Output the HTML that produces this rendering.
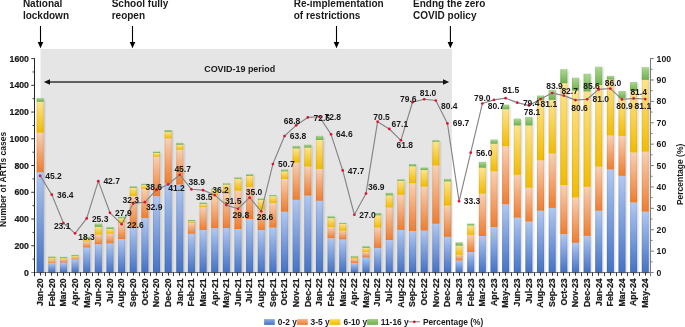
<!DOCTYPE html>
<html><head><meta charset="utf-8"><title>ARTIs chart</title>
<style>
html,body{margin:0;padding:0;background:#fff;}
body{width:685px;height:327px;overflow:hidden;}
svg{display:block;will-change:transform;font-family:"Liberation Sans",sans-serif;font-weight:bold;}
</style></head><body>
<svg width="685" height="327" viewBox="0 0 685 327">
<defs>
<linearGradient id="gB" x1="0" y1="0" x2="0" y2="1"><stop offset="0" stop-color="#b1c8f2"/><stop offset="1" stop-color="#4472c4"/></linearGradient>
<linearGradient id="gO" x1="0" y1="0" x2="0" y2="1"><stop offset="0" stop-color="#f9d0b2"/><stop offset="1" stop-color="#ee7d30"/></linearGradient>
<linearGradient id="gY" x1="0" y1="0" x2="0" y2="1"><stop offset="0" stop-color="#ffe48e"/><stop offset="1" stop-color="#f2bb00"/></linearGradient>
<linearGradient id="gG" x1="0" y1="0" x2="0" y2="1"><stop offset="0" stop-color="#acd894"/><stop offset="1" stop-color="#6fb04a"/></linearGradient>
<linearGradient id="lB" x1="0" y1="0" x2="0" y2="1"><stop offset="0" stop-color="#8eaae6"/><stop offset="1" stop-color="#4472c4"/></linearGradient>
<linearGradient id="lO" x1="0" y1="0" x2="0" y2="1"><stop offset="0" stop-color="#f6b086"/><stop offset="1" stop-color="#ee7d30"/></linearGradient>
<linearGradient id="lY" x1="0" y1="0" x2="0" y2="1"><stop offset="0" stop-color="#ffd960"/><stop offset="1" stop-color="#f2bb00"/></linearGradient>
<linearGradient id="lG" x1="0" y1="0" x2="0" y2="1"><stop offset="0" stop-color="#9ccc7e"/><stop offset="1" stop-color="#6fb04a"/></linearGradient>
<filter id="sh" x="-30%" y="-5%" width="160%" height="110%"><feGaussianBlur in="SourceAlpha" stdDeviation="0.8"/><feOffset dx="0.9" dy="0.5" result="b"/><feComponentTransfer><feFuncA type="linear" slope="0.2"/></feComponentTransfer><feMerge><feMergeNode/><feMergeNode in="SourceGraphic"/></feMerge></filter>
<linearGradient id="edge" x1="0" y1="0" x2="1" y2="0"><stop offset="0" stop-color="#000" stop-opacity="0.10"/><stop offset="0.22" stop-color="#000" stop-opacity="0"/><stop offset="0.78" stop-color="#000" stop-opacity="0"/><stop offset="1" stop-color="#000" stop-opacity="0.10"/></linearGradient>
</defs>
<rect x="40.5" y="48.9" width="411.4" height="223.60" fill="#e5e5e5"/>
<g filter="url(#sh)">
<rect x="36.65" y="172.10" width="7.00" height="100.40" fill="url(#gB)"/>
<rect x="36.65" y="132.66" width="7.00" height="39.44" fill="url(#gO)"/>
<rect x="36.65" y="101.78" width="7.00" height="30.88" fill="url(#gY)"/>
<rect x="36.65" y="98.04" width="7.00" height="3.74" fill="url(#gG)"/>
<rect x="48.29" y="262.74" width="7.00" height="9.76" fill="url(#gB)"/>
<rect x="48.29" y="260.33" width="7.00" height="2.41" fill="url(#gO)"/>
<rect x="48.29" y="257.93" width="7.00" height="2.41" fill="url(#gY)"/>
<rect x="48.29" y="256.46" width="7.00" height="1.47" fill="url(#gG)"/>
<rect x="59.92" y="262.47" width="7.00" height="10.03" fill="url(#gB)"/>
<rect x="59.92" y="259.13" width="7.00" height="3.34" fill="url(#gO)"/>
<rect x="59.92" y="258.06" width="7.00" height="1.07" fill="url(#gY)"/>
<rect x="59.92" y="256.86" width="7.00" height="1.20" fill="url(#gG)"/>
<rect x="71.56" y="259.26" width="7.00" height="13.24" fill="url(#gB)"/>
<rect x="71.56" y="257.53" width="7.00" height="1.74" fill="url(#gO)"/>
<rect x="71.56" y="256.06" width="7.00" height="1.47" fill="url(#gY)"/>
<rect x="71.56" y="254.85" width="7.00" height="1.20" fill="url(#gG)"/>
<rect x="83.20" y="247.50" width="7.00" height="25.00" fill="url(#gB)"/>
<rect x="83.20" y="241.48" width="7.00" height="6.02" fill="url(#gO)"/>
<rect x="83.20" y="238.81" width="7.00" height="2.67" fill="url(#gY)"/>
<rect x="83.20" y="236.67" width="7.00" height="2.14" fill="url(#gG)"/>
<rect x="94.83" y="244.16" width="7.00" height="28.34" fill="url(#gB)"/>
<rect x="94.83" y="234.53" width="7.00" height="9.63" fill="url(#gO)"/>
<rect x="94.83" y="226.91" width="7.00" height="7.62" fill="url(#gY)"/>
<rect x="94.83" y="223.57" width="7.00" height="3.34" fill="url(#gG)"/>
<rect x="106.47" y="243.36" width="7.00" height="29.14" fill="url(#gB)"/>
<rect x="106.47" y="233.60" width="7.00" height="9.76" fill="url(#gO)"/>
<rect x="106.47" y="229.05" width="7.00" height="4.55" fill="url(#gY)"/>
<rect x="106.47" y="227.05" width="7.00" height="2.01" fill="url(#gG)"/>
<rect x="118.11" y="239.08" width="7.00" height="33.42" fill="url(#gB)"/>
<rect x="118.11" y="223.04" width="7.00" height="16.04" fill="url(#gO)"/>
<rect x="118.11" y="218.22" width="7.00" height="4.81" fill="url(#gY)"/>
<rect x="118.11" y="216.62" width="7.00" height="1.60" fill="url(#gG)"/>
<rect x="129.74" y="226.91" width="7.00" height="45.59" fill="url(#gB)"/>
<rect x="129.74" y="195.90" width="7.00" height="31.02" fill="url(#gO)"/>
<rect x="129.74" y="187.88" width="7.00" height="8.02" fill="url(#gY)"/>
<rect x="129.74" y="186.27" width="7.00" height="1.60" fill="url(#gG)"/>
<rect x="141.38" y="217.96" width="7.00" height="54.54" fill="url(#gB)"/>
<rect x="141.38" y="188.81" width="7.00" height="29.14" fill="url(#gO)"/>
<rect x="141.38" y="184.80" width="7.00" height="4.01" fill="url(#gY)"/>
<rect x="141.38" y="183.73" width="7.00" height="1.07" fill="url(#gG)"/>
<rect x="153.02" y="196.16" width="7.00" height="76.34" fill="url(#gB)"/>
<rect x="153.02" y="156.59" width="7.00" height="39.57" fill="url(#gO)"/>
<rect x="153.02" y="152.98" width="7.00" height="3.61" fill="url(#gY)"/>
<rect x="153.02" y="151.51" width="7.00" height="1.47" fill="url(#gG)"/>
<rect x="164.66" y="183.60" width="7.00" height="88.90" fill="url(#gB)"/>
<rect x="164.66" y="138.28" width="7.00" height="45.32" fill="url(#gO)"/>
<rect x="164.66" y="131.86" width="7.00" height="6.42" fill="url(#gY)"/>
<rect x="164.66" y="129.99" width="7.00" height="1.87" fill="url(#gG)"/>
<rect x="176.29" y="184.53" width="7.00" height="87.97" fill="url(#gB)"/>
<rect x="176.29" y="149.64" width="7.00" height="34.89" fill="url(#gO)"/>
<rect x="176.29" y="144.69" width="7.00" height="4.95" fill="url(#gY)"/>
<rect x="176.29" y="142.82" width="7.00" height="1.87" fill="url(#gG)"/>
<rect x="187.93" y="233.73" width="7.00" height="38.77" fill="url(#gB)"/>
<rect x="187.93" y="222.90" width="7.00" height="10.83" fill="url(#gO)"/>
<rect x="187.93" y="221.16" width="7.00" height="1.74" fill="url(#gY)"/>
<rect x="187.93" y="219.83" width="7.00" height="1.34" fill="url(#gG)"/>
<rect x="199.57" y="229.99" width="7.00" height="42.51" fill="url(#gB)"/>
<rect x="199.57" y="207.13" width="7.00" height="22.86" fill="url(#gO)"/>
<rect x="199.57" y="203.92" width="7.00" height="3.21" fill="url(#gY)"/>
<rect x="199.57" y="202.45" width="7.00" height="1.47" fill="url(#gG)"/>
<rect x="211.20" y="228.12" width="7.00" height="44.38" fill="url(#gB)"/>
<rect x="211.20" y="196.30" width="7.00" height="31.82" fill="url(#gO)"/>
<rect x="211.20" y="189.48" width="7.00" height="6.82" fill="url(#gY)"/>
<rect x="211.20" y="188.68" width="7.00" height="0.80" fill="url(#gG)"/>
<rect x="222.84" y="228.12" width="7.00" height="44.38" fill="url(#gB)"/>
<rect x="222.84" y="193.62" width="7.00" height="34.49" fill="url(#gO)"/>
<rect x="222.84" y="184.53" width="7.00" height="9.09" fill="url(#gY)"/>
<rect x="222.84" y="183.20" width="7.00" height="1.34" fill="url(#gG)"/>
<rect x="234.48" y="229.05" width="7.00" height="43.45" fill="url(#gB)"/>
<rect x="234.48" y="190.55" width="7.00" height="38.50" fill="url(#gO)"/>
<rect x="234.48" y="178.79" width="7.00" height="11.76" fill="url(#gY)"/>
<rect x="234.48" y="177.31" width="7.00" height="1.47" fill="url(#gG)"/>
<rect x="246.11" y="219.02" width="7.00" height="53.48" fill="url(#gB)"/>
<rect x="246.11" y="186.81" width="7.00" height="32.22" fill="url(#gO)"/>
<rect x="246.11" y="175.84" width="7.00" height="10.96" fill="url(#gY)"/>
<rect x="246.11" y="174.11" width="7.00" height="1.74" fill="url(#gG)"/>
<rect x="257.75" y="229.99" width="7.00" height="42.51" fill="url(#gB)"/>
<rect x="257.75" y="209.40" width="7.00" height="20.59" fill="url(#gO)"/>
<rect x="257.75" y="199.77" width="7.00" height="9.63" fill="url(#gY)"/>
<rect x="257.75" y="198.44" width="7.00" height="1.34" fill="url(#gG)"/>
<rect x="269.39" y="227.58" width="7.00" height="44.92" fill="url(#gB)"/>
<rect x="269.39" y="202.98" width="7.00" height="24.60" fill="url(#gO)"/>
<rect x="269.39" y="196.16" width="7.00" height="6.82" fill="url(#gY)"/>
<rect x="269.39" y="194.96" width="7.00" height="1.20" fill="url(#gG)"/>
<rect x="281.03" y="211.67" width="7.00" height="60.83" fill="url(#gB)"/>
<rect x="281.03" y="178.92" width="7.00" height="32.75" fill="url(#gO)"/>
<rect x="281.03" y="171.30" width="7.00" height="7.62" fill="url(#gY)"/>
<rect x="281.03" y="169.43" width="7.00" height="1.87" fill="url(#gG)"/>
<rect x="292.66" y="199.77" width="7.00" height="72.73" fill="url(#gB)"/>
<rect x="292.66" y="162.61" width="7.00" height="37.17" fill="url(#gO)"/>
<rect x="292.66" y="148.30" width="7.00" height="14.30" fill="url(#gY)"/>
<rect x="292.66" y="145.90" width="7.00" height="2.41" fill="url(#gG)"/>
<rect x="304.30" y="195.50" width="7.00" height="77.00" fill="url(#gB)"/>
<rect x="304.30" y="166.49" width="7.00" height="29.01" fill="url(#gO)"/>
<rect x="304.30" y="147.50" width="7.00" height="18.98" fill="url(#gY)"/>
<rect x="304.30" y="144.69" width="7.00" height="2.81" fill="url(#gG)"/>
<rect x="315.94" y="200.71" width="7.00" height="71.79" fill="url(#gB)"/>
<rect x="315.94" y="168.89" width="7.00" height="31.82" fill="url(#gO)"/>
<rect x="315.94" y="139.88" width="7.00" height="29.01" fill="url(#gY)"/>
<rect x="315.94" y="135.87" width="7.00" height="4.01" fill="url(#gG)"/>
<rect x="327.57" y="238.14" width="7.00" height="34.36" fill="url(#gB)"/>
<rect x="327.57" y="227.18" width="7.00" height="10.96" fill="url(#gO)"/>
<rect x="327.57" y="218.09" width="7.00" height="9.09" fill="url(#gY)"/>
<rect x="327.57" y="216.22" width="7.00" height="1.87" fill="url(#gG)"/>
<rect x="339.21" y="239.35" width="7.00" height="33.15" fill="url(#gB)"/>
<rect x="339.21" y="230.66" width="7.00" height="8.69" fill="url(#gO)"/>
<rect x="339.21" y="223.84" width="7.00" height="6.82" fill="url(#gY)"/>
<rect x="339.21" y="222.77" width="7.00" height="1.07" fill="url(#gG)"/>
<rect x="350.85" y="263.01" width="7.00" height="9.49" fill="url(#gB)"/>
<rect x="350.85" y="258.73" width="7.00" height="4.28" fill="url(#gO)"/>
<rect x="350.85" y="257.53" width="7.00" height="1.20" fill="url(#gY)"/>
<rect x="350.85" y="256.06" width="7.00" height="1.47" fill="url(#gG)"/>
<rect x="362.48" y="257.53" width="7.00" height="14.97" fill="url(#gB)"/>
<rect x="362.48" y="252.05" width="7.00" height="5.48" fill="url(#gO)"/>
<rect x="362.48" y="247.90" width="7.00" height="4.14" fill="url(#gY)"/>
<rect x="362.48" y="246.16" width="7.00" height="1.74" fill="url(#gG)"/>
<rect x="374.12" y="247.90" width="7.00" height="24.60" fill="url(#gB)"/>
<rect x="374.12" y="227.45" width="7.00" height="20.45" fill="url(#gO)"/>
<rect x="374.12" y="215.28" width="7.00" height="12.17" fill="url(#gY)"/>
<rect x="374.12" y="213.01" width="7.00" height="2.27" fill="url(#gG)"/>
<rect x="385.76" y="240.01" width="7.00" height="32.49" fill="url(#gB)"/>
<rect x="385.76" y="207.39" width="7.00" height="32.62" fill="url(#gO)"/>
<rect x="385.76" y="195.36" width="7.00" height="12.03" fill="url(#gY)"/>
<rect x="385.76" y="192.82" width="7.00" height="2.54" fill="url(#gG)"/>
<rect x="397.40" y="229.85" width="7.00" height="42.65" fill="url(#gB)"/>
<rect x="397.40" y="194.83" width="7.00" height="35.03" fill="url(#gO)"/>
<rect x="397.40" y="180.79" width="7.00" height="14.04" fill="url(#gY)"/>
<rect x="397.40" y="179.19" width="7.00" height="1.60" fill="url(#gG)"/>
<rect x="409.03" y="230.92" width="7.00" height="41.58" fill="url(#gB)"/>
<rect x="409.03" y="183.20" width="7.00" height="47.73" fill="url(#gO)"/>
<rect x="409.03" y="166.22" width="7.00" height="16.98" fill="url(#gY)"/>
<rect x="409.03" y="163.95" width="7.00" height="2.27" fill="url(#gG)"/>
<rect x="420.67" y="230.52" width="7.00" height="41.98" fill="url(#gB)"/>
<rect x="420.67" y="186.54" width="7.00" height="43.98" fill="url(#gO)"/>
<rect x="420.67" y="169.96" width="7.00" height="16.58" fill="url(#gY)"/>
<rect x="420.67" y="167.42" width="7.00" height="2.54" fill="url(#gG)"/>
<rect x="432.31" y="223.70" width="7.00" height="48.80" fill="url(#gB)"/>
<rect x="432.31" y="165.42" width="7.00" height="58.29" fill="url(#gO)"/>
<rect x="432.31" y="141.75" width="7.00" height="23.66" fill="url(#gY)"/>
<rect x="432.31" y="140.15" width="7.00" height="1.60" fill="url(#gG)"/>
<rect x="443.94" y="236.81" width="7.00" height="35.69" fill="url(#gB)"/>
<rect x="443.94" y="205.52" width="7.00" height="31.28" fill="url(#gO)"/>
<rect x="443.94" y="181.33" width="7.00" height="24.20" fill="url(#gY)"/>
<rect x="443.94" y="178.92" width="7.00" height="2.41" fill="url(#gG)"/>
<rect x="455.58" y="260.60" width="7.00" height="11.90" fill="url(#gB)"/>
<rect x="455.58" y="254.85" width="7.00" height="5.75" fill="url(#gO)"/>
<rect x="455.58" y="245.63" width="7.00" height="9.22" fill="url(#gY)"/>
<rect x="455.58" y="242.29" width="7.00" height="3.34" fill="url(#gG)"/>
<rect x="467.22" y="252.05" width="7.00" height="20.45" fill="url(#gB)"/>
<rect x="467.22" y="234.93" width="7.00" height="17.11" fill="url(#gO)"/>
<rect x="467.22" y="225.44" width="7.00" height="9.49" fill="url(#gY)"/>
<rect x="467.22" y="223.57" width="7.00" height="1.87" fill="url(#gG)"/>
<rect x="478.85" y="236.00" width="7.00" height="36.50" fill="url(#gB)"/>
<rect x="478.85" y="193.62" width="7.00" height="42.38" fill="url(#gO)"/>
<rect x="478.85" y="167.69" width="7.00" height="25.94" fill="url(#gY)"/>
<rect x="478.85" y="161.81" width="7.00" height="5.88" fill="url(#gG)"/>
<rect x="490.49" y="227.18" width="7.00" height="45.32" fill="url(#gB)"/>
<rect x="490.49" y="171.30" width="7.00" height="55.88" fill="url(#gO)"/>
<rect x="490.49" y="143.76" width="7.00" height="27.54" fill="url(#gY)"/>
<rect x="490.49" y="139.48" width="7.00" height="4.28" fill="url(#gG)"/>
<rect x="502.13" y="204.32" width="7.00" height="68.18" fill="url(#gB)"/>
<rect x="502.13" y="146.17" width="7.00" height="58.15" fill="url(#gO)"/>
<rect x="502.13" y="109.27" width="7.00" height="36.90" fill="url(#gY)"/>
<rect x="502.13" y="104.59" width="7.00" height="4.68" fill="url(#gG)"/>
<rect x="513.77" y="217.69" width="7.00" height="54.81" fill="url(#gB)"/>
<rect x="513.77" y="174.91" width="7.00" height="42.78" fill="url(#gO)"/>
<rect x="513.77" y="125.44" width="7.00" height="49.46" fill="url(#gY)"/>
<rect x="513.77" y="118.63" width="7.00" height="6.82" fill="url(#gG)"/>
<rect x="525.40" y="221.57" width="7.00" height="50.93" fill="url(#gB)"/>
<rect x="525.40" y="187.74" width="7.00" height="33.82" fill="url(#gO)"/>
<rect x="525.40" y="125.44" width="7.00" height="62.30" fill="url(#gY)"/>
<rect x="525.40" y="117.02" width="7.00" height="8.42" fill="url(#gG)"/>
<rect x="537.04" y="210.74" width="7.00" height="61.76" fill="url(#gB)"/>
<rect x="537.04" y="160.34" width="7.00" height="50.40" fill="url(#gO)"/>
<rect x="537.04" y="100.31" width="7.00" height="60.03" fill="url(#gY)"/>
<rect x="537.04" y="95.50" width="7.00" height="4.81" fill="url(#gG)"/>
<rect x="548.68" y="207.93" width="7.00" height="64.57" fill="url(#gB)"/>
<rect x="548.68" y="153.52" width="7.00" height="54.41" fill="url(#gO)"/>
<rect x="548.68" y="99.91" width="7.00" height="53.61" fill="url(#gY)"/>
<rect x="548.68" y="89.88" width="7.00" height="10.03" fill="url(#gG)"/>
<rect x="560.31" y="234.13" width="7.00" height="38.37" fill="url(#gB)"/>
<rect x="560.31" y="185.07" width="7.00" height="49.06" fill="url(#gO)"/>
<rect x="560.31" y="83.20" width="7.00" height="101.87" fill="url(#gY)"/>
<rect x="560.31" y="69.16" width="7.00" height="14.04" fill="url(#gG)"/>
<rect x="571.95" y="242.82" width="7.00" height="29.68" fill="url(#gB)"/>
<rect x="571.95" y="197.50" width="7.00" height="45.32" fill="url(#gO)"/>
<rect x="571.95" y="90.55" width="7.00" height="106.95" fill="url(#gY)"/>
<rect x="571.95" y="77.72" width="7.00" height="12.83" fill="url(#gG)"/>
<rect x="583.59" y="235.87" width="7.00" height="36.63" fill="url(#gB)"/>
<rect x="583.59" y="186.81" width="7.00" height="49.06" fill="url(#gO)"/>
<rect x="583.59" y="91.49" width="7.00" height="95.32" fill="url(#gY)"/>
<rect x="583.59" y="73.71" width="7.00" height="17.78" fill="url(#gG)"/>
<rect x="595.22" y="210.74" width="7.00" height="61.76" fill="url(#gB)"/>
<rect x="595.22" y="166.62" width="7.00" height="44.12" fill="url(#gO)"/>
<rect x="595.22" y="85.07" width="7.00" height="81.55" fill="url(#gY)"/>
<rect x="595.22" y="66.75" width="7.00" height="18.32" fill="url(#gG)"/>
<rect x="606.86" y="169.43" width="7.00" height="103.07" fill="url(#gB)"/>
<rect x="606.86" y="135.47" width="7.00" height="33.96" fill="url(#gO)"/>
<rect x="606.86" y="79.59" width="7.00" height="55.88" fill="url(#gY)"/>
<rect x="606.86" y="75.85" width="7.00" height="3.74" fill="url(#gG)"/>
<rect x="618.50" y="175.84" width="7.00" height="96.66" fill="url(#gB)"/>
<rect x="618.50" y="135.87" width="7.00" height="39.97" fill="url(#gO)"/>
<rect x="618.50" y="98.31" width="7.00" height="37.57" fill="url(#gY)"/>
<rect x="618.50" y="90.95" width="7.00" height="7.35" fill="url(#gG)"/>
<rect x="630.14" y="202.45" width="7.00" height="70.05" fill="url(#gB)"/>
<rect x="630.14" y="152.45" width="7.00" height="50.00" fill="url(#gO)"/>
<rect x="630.14" y="90.95" width="7.00" height="61.50" fill="url(#gY)"/>
<rect x="630.14" y="82.00" width="7.00" height="8.96" fill="url(#gG)"/>
<rect x="641.77" y="211.67" width="7.00" height="60.83" fill="url(#gB)"/>
<rect x="641.77" y="151.65" width="7.00" height="60.03" fill="url(#gO)"/>
<rect x="641.77" y="79.86" width="7.00" height="71.79" fill="url(#gY)"/>
<rect x="641.77" y="67.16" width="7.00" height="12.70" fill="url(#gG)"/>
</g>
<g fill="url(#edge)">
<rect x="36.65" y="98.04" width="7.00" height="174.46"/>
<rect x="48.29" y="256.46" width="7.00" height="16.04"/>
<rect x="59.92" y="256.86" width="7.00" height="15.64"/>
<rect x="71.56" y="254.85" width="7.00" height="17.65"/>
<rect x="83.20" y="236.67" width="7.00" height="35.83"/>
<rect x="94.83" y="223.57" width="7.00" height="48.93"/>
<rect x="106.47" y="227.05" width="7.00" height="45.45"/>
<rect x="118.11" y="216.62" width="7.00" height="55.88"/>
<rect x="129.74" y="186.27" width="7.00" height="86.23"/>
<rect x="141.38" y="183.73" width="7.00" height="88.77"/>
<rect x="153.02" y="151.51" width="7.00" height="120.99"/>
<rect x="164.66" y="129.99" width="7.00" height="142.51"/>
<rect x="176.29" y="142.82" width="7.00" height="129.68"/>
<rect x="187.93" y="219.83" width="7.00" height="52.67"/>
<rect x="199.57" y="202.45" width="7.00" height="70.05"/>
<rect x="211.20" y="188.68" width="7.00" height="83.82"/>
<rect x="222.84" y="183.20" width="7.00" height="89.30"/>
<rect x="234.48" y="177.31" width="7.00" height="95.19"/>
<rect x="246.11" y="174.11" width="7.00" height="98.39"/>
<rect x="257.75" y="198.44" width="7.00" height="74.06"/>
<rect x="269.39" y="194.96" width="7.00" height="77.54"/>
<rect x="281.03" y="169.43" width="7.00" height="103.07"/>
<rect x="292.66" y="145.90" width="7.00" height="126.60"/>
<rect x="304.30" y="144.69" width="7.00" height="127.81"/>
<rect x="315.94" y="135.87" width="7.00" height="136.63"/>
<rect x="327.57" y="216.22" width="7.00" height="56.28"/>
<rect x="339.21" y="222.77" width="7.00" height="49.73"/>
<rect x="350.85" y="256.06" width="7.00" height="16.44"/>
<rect x="362.48" y="246.16" width="7.00" height="26.34"/>
<rect x="374.12" y="213.01" width="7.00" height="59.49"/>
<rect x="385.76" y="192.82" width="7.00" height="79.68"/>
<rect x="397.40" y="179.19" width="7.00" height="93.31"/>
<rect x="409.03" y="163.95" width="7.00" height="108.55"/>
<rect x="420.67" y="167.42" width="7.00" height="105.08"/>
<rect x="432.31" y="140.15" width="7.00" height="132.35"/>
<rect x="443.94" y="178.92" width="7.00" height="93.58"/>
<rect x="455.58" y="242.29" width="7.00" height="30.21"/>
<rect x="467.22" y="223.57" width="7.00" height="48.93"/>
<rect x="478.85" y="161.81" width="7.00" height="110.69"/>
<rect x="490.49" y="139.48" width="7.00" height="133.02"/>
<rect x="502.13" y="104.59" width="7.00" height="167.91"/>
<rect x="513.77" y="118.63" width="7.00" height="153.87"/>
<rect x="525.40" y="117.02" width="7.00" height="155.48"/>
<rect x="537.04" y="95.50" width="7.00" height="177.00"/>
<rect x="548.68" y="89.88" width="7.00" height="182.62"/>
<rect x="560.31" y="69.16" width="7.00" height="203.34"/>
<rect x="571.95" y="77.72" width="7.00" height="194.78"/>
<rect x="583.59" y="73.71" width="7.00" height="198.79"/>
<rect x="595.22" y="66.75" width="7.00" height="205.75"/>
<rect x="606.86" y="75.85" width="7.00" height="196.65"/>
<rect x="618.50" y="90.95" width="7.00" height="181.55"/>
<rect x="630.14" y="82.00" width="7.00" height="190.50"/>
<rect x="641.77" y="67.16" width="7.00" height="205.34"/>
</g>
<g stroke="#3a3a3a" stroke-width="1" fill="none">
<line x1="32.50" y1="259.13" x2="34.50" y2="259.13"/>
<line x1="31.20" y1="245.76" x2="34.50" y2="245.76"/>
<line x1="32.50" y1="232.39" x2="34.50" y2="232.39"/>
<line x1="31.20" y1="219.03" x2="34.50" y2="219.03"/>
<line x1="32.50" y1="205.66" x2="34.50" y2="205.66"/>
<line x1="31.20" y1="192.29" x2="34.50" y2="192.29"/>
<line x1="32.50" y1="178.92" x2="34.50" y2="178.92"/>
<line x1="31.20" y1="165.55" x2="34.50" y2="165.55"/>
<line x1="32.50" y1="152.18" x2="34.50" y2="152.18"/>
<line x1="31.20" y1="138.81" x2="34.50" y2="138.81"/>
<line x1="32.50" y1="125.44" x2="34.50" y2="125.44"/>
<line x1="31.20" y1="112.07" x2="34.50" y2="112.07"/>
<line x1="32.50" y1="98.71" x2="34.50" y2="98.71"/>
<line x1="31.20" y1="85.34" x2="34.50" y2="85.34"/>
<line x1="32.50" y1="71.97" x2="34.50" y2="71.97"/>
<line x1="31.20" y1="58.60" x2="34.50" y2="58.60"/>
<line x1="45.50" y1="272.50" x2="45.50" y2="276.10"/>
<line x1="57.50" y1="272.50" x2="57.50" y2="276.10"/>
<line x1="69.50" y1="272.50" x2="69.50" y2="276.10"/>
<line x1="80.50" y1="272.50" x2="80.50" y2="276.10"/>
<line x1="92.50" y1="272.50" x2="92.50" y2="276.10"/>
<line x1="104.50" y1="272.50" x2="104.50" y2="276.10"/>
<line x1="115.50" y1="272.50" x2="115.50" y2="276.10"/>
<line x1="127.50" y1="272.50" x2="127.50" y2="276.10"/>
<line x1="139.50" y1="272.50" x2="139.50" y2="276.10"/>
<line x1="150.50" y1="272.50" x2="150.50" y2="276.10"/>
<line x1="162.50" y1="272.50" x2="162.50" y2="276.10"/>
<line x1="173.50" y1="272.50" x2="173.50" y2="276.10"/>
<line x1="185.50" y1="272.50" x2="185.50" y2="276.10"/>
<line x1="197.50" y1="272.50" x2="197.50" y2="276.10"/>
<line x1="208.50" y1="272.50" x2="208.50" y2="276.10"/>
<line x1="220.50" y1="272.50" x2="220.50" y2="276.10"/>
<line x1="232.50" y1="272.50" x2="232.50" y2="276.10"/>
<line x1="243.50" y1="272.50" x2="243.50" y2="276.10"/>
<line x1="255.50" y1="272.50" x2="255.50" y2="276.10"/>
<line x1="267.50" y1="272.50" x2="267.50" y2="276.10"/>
<line x1="278.50" y1="272.50" x2="278.50" y2="276.10"/>
<line x1="290.50" y1="272.50" x2="290.50" y2="276.10"/>
<line x1="301.50" y1="272.50" x2="301.50" y2="276.10"/>
<line x1="313.50" y1="272.50" x2="313.50" y2="276.10"/>
<line x1="325.50" y1="272.50" x2="325.50" y2="276.10"/>
<line x1="336.50" y1="272.50" x2="336.50" y2="276.10"/>
<line x1="348.50" y1="272.50" x2="348.50" y2="276.10"/>
<line x1="360.50" y1="272.50" x2="360.50" y2="276.10"/>
<line x1="371.50" y1="272.50" x2="371.50" y2="276.10"/>
<line x1="383.50" y1="272.50" x2="383.50" y2="276.10"/>
<line x1="395.50" y1="272.50" x2="395.50" y2="276.10"/>
<line x1="406.50" y1="272.50" x2="406.50" y2="276.10"/>
<line x1="418.50" y1="272.50" x2="418.50" y2="276.10"/>
<line x1="429.50" y1="272.50" x2="429.50" y2="276.10"/>
<line x1="441.50" y1="272.50" x2="441.50" y2="276.10"/>
<line x1="453.50" y1="272.50" x2="453.50" y2="276.10"/>
<line x1="464.50" y1="272.50" x2="464.50" y2="276.10"/>
<line x1="476.50" y1="272.50" x2="476.50" y2="276.10"/>
<line x1="488.50" y1="272.50" x2="488.50" y2="276.10"/>
<line x1="499.50" y1="272.50" x2="499.50" y2="276.10"/>
<line x1="511.50" y1="272.50" x2="511.50" y2="276.10"/>
<line x1="523.50" y1="272.50" x2="523.50" y2="276.10"/>
<line x1="534.50" y1="272.50" x2="534.50" y2="276.10"/>
<line x1="546.50" y1="272.50" x2="546.50" y2="276.10"/>
<line x1="557.50" y1="272.50" x2="557.50" y2="276.10"/>
<line x1="569.50" y1="272.50" x2="569.50" y2="276.10"/>
<line x1="581.50" y1="272.50" x2="581.50" y2="276.10"/>
<line x1="592.50" y1="272.50" x2="592.50" y2="276.10"/>
<line x1="604.50" y1="272.50" x2="604.50" y2="276.10"/>
<line x1="616.50" y1="272.50" x2="616.50" y2="276.10"/>
<line x1="627.50" y1="272.50" x2="627.50" y2="276.10"/>
<line x1="639.50" y1="272.50" x2="639.50" y2="276.10"/>
<line x1="40.50" y1="272.50" x2="40.50" y2="275.70"/>
<line x1="51.50" y1="272.50" x2="51.50" y2="275.70"/>
<line x1="63.50" y1="272.50" x2="63.50" y2="275.70"/>
<line x1="75.50" y1="272.50" x2="75.50" y2="275.70"/>
<line x1="86.50" y1="272.50" x2="86.50" y2="275.70"/>
<line x1="98.50" y1="272.50" x2="98.50" y2="275.70"/>
<line x1="109.50" y1="272.50" x2="109.50" y2="275.70"/>
<line x1="121.50" y1="272.50" x2="121.50" y2="275.70"/>
<line x1="133.50" y1="272.50" x2="133.50" y2="275.70"/>
<line x1="144.50" y1="272.50" x2="144.50" y2="275.70"/>
<line x1="156.50" y1="272.50" x2="156.50" y2="275.70"/>
<line x1="168.50" y1="272.50" x2="168.50" y2="275.70"/>
<line x1="179.50" y1="272.50" x2="179.50" y2="275.70"/>
<line x1="191.50" y1="272.50" x2="191.50" y2="275.70"/>
<line x1="203.50" y1="272.50" x2="203.50" y2="275.70"/>
<line x1="214.50" y1="272.50" x2="214.50" y2="275.70"/>
<line x1="226.50" y1="272.50" x2="226.50" y2="275.70"/>
<line x1="237.50" y1="272.50" x2="237.50" y2="275.70"/>
<line x1="249.50" y1="272.50" x2="249.50" y2="275.70"/>
<line x1="261.50" y1="272.50" x2="261.50" y2="275.70"/>
<line x1="272.50" y1="272.50" x2="272.50" y2="275.70"/>
<line x1="284.50" y1="272.50" x2="284.50" y2="275.70"/>
<line x1="296.50" y1="272.50" x2="296.50" y2="275.70"/>
<line x1="307.50" y1="272.50" x2="307.50" y2="275.70"/>
<line x1="319.50" y1="272.50" x2="319.50" y2="275.70"/>
<line x1="331.50" y1="272.50" x2="331.50" y2="275.70"/>
<line x1="342.50" y1="272.50" x2="342.50" y2="275.70"/>
<line x1="354.50" y1="272.50" x2="354.50" y2="275.70"/>
<line x1="365.50" y1="272.50" x2="365.50" y2="275.70"/>
<line x1="377.50" y1="272.50" x2="377.50" y2="275.70"/>
<line x1="389.50" y1="272.50" x2="389.50" y2="275.70"/>
<line x1="400.50" y1="272.50" x2="400.50" y2="275.70"/>
<line x1="412.50" y1="272.50" x2="412.50" y2="275.70"/>
<line x1="424.50" y1="272.50" x2="424.50" y2="275.70"/>
<line x1="435.50" y1="272.50" x2="435.50" y2="275.70"/>
<line x1="447.50" y1="272.50" x2="447.50" y2="275.70"/>
<line x1="459.50" y1="272.50" x2="459.50" y2="275.70"/>
<line x1="470.50" y1="272.50" x2="470.50" y2="275.70"/>
<line x1="482.50" y1="272.50" x2="482.50" y2="275.70"/>
<line x1="493.50" y1="272.50" x2="493.50" y2="275.70"/>
<line x1="505.50" y1="272.50" x2="505.50" y2="275.70"/>
<line x1="517.50" y1="272.50" x2="517.50" y2="275.70"/>
<line x1="528.50" y1="272.50" x2="528.50" y2="275.70"/>
<line x1="540.50" y1="272.50" x2="540.50" y2="275.70"/>
<line x1="552.50" y1="272.50" x2="552.50" y2="275.70"/>
<line x1="563.50" y1="272.50" x2="563.50" y2="275.70"/>
<line x1="575.50" y1="272.50" x2="575.50" y2="275.70"/>
<line x1="587.50" y1="272.50" x2="587.50" y2="275.70"/>
<line x1="598.50" y1="272.50" x2="598.50" y2="275.70"/>
<line x1="610.50" y1="272.50" x2="610.50" y2="275.70"/>
<line x1="621.50" y1="272.50" x2="621.50" y2="275.70"/>
<line x1="633.50" y1="272.50" x2="633.50" y2="275.70"/>
<line x1="645.50" y1="272.50" x2="645.50" y2="275.70"/>
</g>
<line x1="34.50" y1="58.10" x2="34.50" y2="276.30" stroke="#262626" stroke-width="1"/>
<line x1="31.30" y1="272.50" x2="653.70" y2="272.50" stroke="#000" stroke-opacity="0.5" stroke-width="1"/>
<g stroke="#7a7a7a" stroke-width="1" fill="none">
<line x1="650.50" y1="58.10" x2="650.50" y2="276.30"/>
<line x1="650.50" y1="261.81" x2="652.50" y2="261.81"/>
<line x1="650.50" y1="251.11" x2="653.80" y2="251.11"/>
<line x1="650.50" y1="240.41" x2="652.50" y2="240.41"/>
<line x1="650.50" y1="229.72" x2="653.80" y2="229.72"/>
<line x1="650.50" y1="219.03" x2="652.50" y2="219.03"/>
<line x1="650.50" y1="208.33" x2="653.80" y2="208.33"/>
<line x1="650.50" y1="197.63" x2="652.50" y2="197.63"/>
<line x1="650.50" y1="186.94" x2="653.80" y2="186.94"/>
<line x1="650.50" y1="176.25" x2="652.50" y2="176.25"/>
<line x1="650.50" y1="165.55" x2="653.80" y2="165.55"/>
<line x1="650.50" y1="154.85" x2="652.50" y2="154.85"/>
<line x1="650.50" y1="144.16" x2="653.80" y2="144.16"/>
<line x1="650.50" y1="133.46" x2="652.50" y2="133.46"/>
<line x1="650.50" y1="122.77" x2="653.80" y2="122.77"/>
<line x1="650.50" y1="112.07" x2="652.50" y2="112.07"/>
<line x1="650.50" y1="101.38" x2="653.80" y2="101.38"/>
<line x1="650.50" y1="90.69" x2="652.50" y2="90.69"/>
<line x1="650.50" y1="79.99" x2="653.80" y2="79.99"/>
<line x1="650.50" y1="69.30" x2="652.50" y2="69.30"/>
<line x1="650.50" y1="58.60" x2="653.80" y2="58.60"/>
</g>
<g font-size="8.7" fill="#1a1a1a" stroke="#1a1a1a" stroke-width="0.22" text-anchor="end">
<text x="28.9" y="275.50">0</text>
<text x="28.9" y="248.76">200</text>
<text x="28.9" y="222.02">400</text>
<text x="28.9" y="195.29">600</text>
<text x="28.9" y="168.55">800</text>
<text x="28.9" y="141.81">1000</text>
<text x="28.9" y="115.07">1200</text>
<text x="28.9" y="88.34">1400</text>
<text x="28.9" y="61.60">1600</text>
</g>
<g font-size="8.7" fill="#1a1a1a" text-anchor="start">
<text x="656.6" y="275.50">0</text>
<text x="656.6" y="254.11">10</text>
<text x="656.6" y="232.72">20</text>
<text x="656.6" y="211.33">30</text>
<text x="656.6" y="189.94">40</text>
<text x="656.6" y="168.55">50</text>
<text x="656.6" y="147.16">60</text>
<text x="656.6" y="125.77">70</text>
<text x="656.6" y="104.38">80</text>
<text x="656.6" y="82.99">90</text>
<text x="656.6" y="61.60">100</text>
</g>
<g font-size="8.7" fill="#1a1a1a" stroke="#1a1a1a" stroke-width="0.22" text-anchor="end">
<text transform="translate(42.95 278.40) rotate(-90)" x="0" y="0">Jan-20</text>
<text transform="translate(54.59 278.40) rotate(-90)" x="0" y="0">Feb-20</text>
<text transform="translate(66.22 278.40) rotate(-90)" x="0" y="0">Mar-20</text>
<text transform="translate(77.86 278.40) rotate(-90)" x="0" y="0">Apr-20</text>
<text transform="translate(89.50 278.40) rotate(-90)" x="0" y="0">May-20</text>
<text transform="translate(101.13 278.40) rotate(-90)" x="0" y="0">Jun-20</text>
<text transform="translate(112.77 278.40) rotate(-90)" x="0" y="0">Jul-20</text>
<text transform="translate(124.41 278.40) rotate(-90)" x="0" y="0">Aug-20</text>
<text transform="translate(136.04 278.40) rotate(-90)" x="0" y="0">Sep-20</text>
<text transform="translate(147.68 278.40) rotate(-90)" x="0" y="0">Oct-20</text>
<text transform="translate(159.32 278.40) rotate(-90)" x="0" y="0">Nov-20</text>
<text transform="translate(170.96 278.40) rotate(-90)" x="0" y="0">Dec-20</text>
<text transform="translate(182.59 278.40) rotate(-90)" x="0" y="0">Jan-21</text>
<text transform="translate(194.23 278.40) rotate(-90)" x="0" y="0">Feb-21</text>
<text transform="translate(205.87 278.40) rotate(-90)" x="0" y="0">Mar-21</text>
<text transform="translate(217.50 278.40) rotate(-90)" x="0" y="0">Apr-21</text>
<text transform="translate(229.14 278.40) rotate(-90)" x="0" y="0">May-21</text>
<text transform="translate(240.78 278.40) rotate(-90)" x="0" y="0">Jun-21</text>
<text transform="translate(252.41 278.40) rotate(-90)" x="0" y="0">Jul-21</text>
<text transform="translate(264.05 278.40) rotate(-90)" x="0" y="0">Aug-21</text>
<text transform="translate(275.69 278.40) rotate(-90)" x="0" y="0">Sep-21</text>
<text transform="translate(287.33 278.40) rotate(-90)" x="0" y="0">Oct-21</text>
<text transform="translate(298.96 278.40) rotate(-90)" x="0" y="0">Nov-21</text>
<text transform="translate(310.60 278.40) rotate(-90)" x="0" y="0">Dec-21</text>
<text transform="translate(322.24 278.40) rotate(-90)" x="0" y="0">Jan-22</text>
<text transform="translate(333.87 278.40) rotate(-90)" x="0" y="0">Feb-22</text>
<text transform="translate(345.51 278.40) rotate(-90)" x="0" y="0">Mar-22</text>
<text transform="translate(357.15 278.40) rotate(-90)" x="0" y="0">Apr-22</text>
<text transform="translate(368.78 278.40) rotate(-90)" x="0" y="0">May-22</text>
<text transform="translate(380.42 278.40) rotate(-90)" x="0" y="0">Jun-22</text>
<text transform="translate(392.06 278.40) rotate(-90)" x="0" y="0">Jul-22</text>
<text transform="translate(403.70 278.40) rotate(-90)" x="0" y="0">Aug-22</text>
<text transform="translate(415.33 278.40) rotate(-90)" x="0" y="0">Sep-22</text>
<text transform="translate(426.97 278.40) rotate(-90)" x="0" y="0">Oct-22</text>
<text transform="translate(438.61 278.40) rotate(-90)" x="0" y="0">Nov-22</text>
<text transform="translate(450.24 278.40) rotate(-90)" x="0" y="0">Dec-22</text>
<text transform="translate(461.88 278.40) rotate(-90)" x="0" y="0">Jan-23</text>
<text transform="translate(473.52 278.40) rotate(-90)" x="0" y="0">Feb-23</text>
<text transform="translate(485.15 278.40) rotate(-90)" x="0" y="0">Mar-23</text>
<text transform="translate(496.79 278.40) rotate(-90)" x="0" y="0">Apr-23</text>
<text transform="translate(508.43 278.40) rotate(-90)" x="0" y="0">May-23</text>
<text transform="translate(520.07 278.40) rotate(-90)" x="0" y="0">Jun-23</text>
<text transform="translate(531.70 278.40) rotate(-90)" x="0" y="0">Jul-23</text>
<text transform="translate(543.34 278.40) rotate(-90)" x="0" y="0">Aug-23</text>
<text transform="translate(554.98 278.40) rotate(-90)" x="0" y="0">Sep-23</text>
<text transform="translate(566.61 278.40) rotate(-90)" x="0" y="0">Oct-23</text>
<text transform="translate(578.25 278.40) rotate(-90)" x="0" y="0">Nov-23</text>
<text transform="translate(589.89 278.40) rotate(-90)" x="0" y="0">Dec-23</text>
<text transform="translate(601.52 278.40) rotate(-90)" x="0" y="0">Jan-24</text>
<text transform="translate(613.16 278.40) rotate(-90)" x="0" y="0">Feb-24</text>
<text transform="translate(624.80 278.40) rotate(-90)" x="0" y="0">Mar-24</text>
<text transform="translate(636.44 278.40) rotate(-90)" x="0" y="0">Apr-24</text>
<text transform="translate(648.07 278.40) rotate(-90)" x="0" y="0">May-24</text>
</g>
<text font-size="8.5" fill="#1a1a1a" text-anchor="middle" transform="translate(6.0 179.4) rotate(-90)">Number of ARTIs cases</text>
<text font-size="8.5" fill="#1a1a1a" text-anchor="middle" transform="translate(682.8 174.4) rotate(-90)">Percentage (%)</text>
<polyline points="40.15,175.82 51.79,194.64 63.42,223.09 75.06,233.36 86.70,218.38 98.33,181.16 109.97,212.82 121.61,224.16 133.24,203.41 144.88,202.13 156.52,189.93 168.16,184.37 179.79,174.75 191.43,189.29 203.07,190.15 214.70,195.07 226.34,205.12 237.98,208.76 249.61,197.63 261.25,211.32 272.89,164.05 284.53,136.03 296.16,125.34 307.80,117.42 319.44,116.78 331.07,134.32 342.71,170.47 354.35,214.75 365.98,193.57 377.62,121.70 389.26,128.97 400.90,140.31 412.53,102.24 424.17,99.24 435.81,100.52 447.44,123.41 459.08,201.27 470.72,152.72 482.35,103.52 493.99,99.88 505.63,98.17 517.27,102.66 528.90,105.44 540.54,99.03 552.18,93.04 563.81,95.60 575.45,100.10 587.09,99.24 598.72,89.40 610.36,88.55 622.00,99.45 633.64,98.39 645.27,99.03" fill="none" stroke="#858585" stroke-width="1.15" stroke-linejoin="round"/>
<g fill="#e0102f">
<circle cx="40.15" cy="175.82" r="1.35"/>
<circle cx="51.79" cy="194.64" r="1.35"/>
<circle cx="63.42" cy="223.09" r="1.35"/>
<circle cx="75.06" cy="233.36" r="1.35"/>
<circle cx="86.70" cy="218.38" r="1.35"/>
<circle cx="98.33" cy="181.16" r="1.35"/>
<circle cx="109.97" cy="212.82" r="1.35"/>
<circle cx="121.61" cy="224.16" r="1.35"/>
<circle cx="133.24" cy="203.41" r="1.35"/>
<circle cx="144.88" cy="202.13" r="1.35"/>
<circle cx="156.52" cy="189.93" r="1.35"/>
<circle cx="168.16" cy="184.37" r="1.35"/>
<circle cx="179.79" cy="174.75" r="1.35"/>
<circle cx="191.43" cy="189.29" r="1.35"/>
<circle cx="203.07" cy="190.15" r="1.35"/>
<circle cx="214.70" cy="195.07" r="1.35"/>
<circle cx="226.34" cy="205.12" r="1.35"/>
<circle cx="237.98" cy="208.76" r="1.35"/>
<circle cx="249.61" cy="197.63" r="1.35"/>
<circle cx="261.25" cy="211.32" r="1.35"/>
<circle cx="272.89" cy="164.05" r="1.35"/>
<circle cx="284.53" cy="136.03" r="1.35"/>
<circle cx="296.16" cy="125.34" r="1.35"/>
<circle cx="307.80" cy="117.42" r="1.35"/>
<circle cx="319.44" cy="116.78" r="1.35"/>
<circle cx="331.07" cy="134.32" r="1.35"/>
<circle cx="342.71" cy="170.47" r="1.35"/>
<circle cx="354.35" cy="214.75" r="1.35"/>
<circle cx="365.98" cy="193.57" r="1.35"/>
<circle cx="377.62" cy="121.70" r="1.35"/>
<circle cx="389.26" cy="128.97" r="1.35"/>
<circle cx="400.90" cy="140.31" r="1.35"/>
<circle cx="412.53" cy="102.24" r="1.35"/>
<circle cx="424.17" cy="99.24" r="1.35"/>
<circle cx="435.81" cy="100.52" r="1.35"/>
<circle cx="447.44" cy="123.41" r="1.35"/>
<circle cx="459.08" cy="201.27" r="1.35"/>
<circle cx="470.72" cy="152.72" r="1.35"/>
<circle cx="482.35" cy="103.52" r="1.35"/>
<circle cx="493.99" cy="99.88" r="1.35"/>
<circle cx="505.63" cy="98.17" r="1.35"/>
<circle cx="517.27" cy="102.66" r="1.35"/>
<circle cx="528.90" cy="105.44" r="1.35"/>
<circle cx="540.54" cy="99.03" r="1.35"/>
<circle cx="552.18" cy="93.04" r="1.35"/>
<circle cx="563.81" cy="95.60" r="1.35"/>
<circle cx="575.45" cy="100.10" r="1.35"/>
<circle cx="587.09" cy="99.24" r="1.35"/>
<circle cx="598.72" cy="89.40" r="1.35"/>
<circle cx="610.36" cy="88.55" r="1.35"/>
<circle cx="622.00" cy="99.45" r="1.35"/>
<circle cx="633.64" cy="98.39" r="1.35"/>
<circle cx="645.27" cy="99.03" r="1.35"/>
</g>
<g font-size="8.5" fill="#1a1a1a">
<text x="45.20" y="179.00">45.2</text>
<text x="57.00" y="198.10">36.4</text>
<text x="53.90" y="228.60">23.1</text>
<text x="78.30" y="239.70">18.3</text>
<text x="91.90" y="221.80">25.3</text>
<text x="103.40" y="184.20">42.7</text>
<text x="115.10" y="215.90">27.9</text>
<text x="127.10" y="227.80">22.6</text>
<text x="122.50" y="203.00">32.3</text>
<text x="145.90" y="209.70">32.9</text>
<text x="145.50" y="189.50">38.6</text>
<text x="168.30" y="190.80">41.2</text>
<text x="174.40" y="172.20">45.7</text>
<text x="188.50" y="184.60">38.9</text>
<text x="196.00" y="199.50">38.5</text>
<text x="212.20" y="192.60">36.2</text>
<text x="224.90" y="204.00">31.5</text>
<text x="232.60" y="217.80">29.8</text>
<text x="245.70" y="195.00">35.0</text>
<text x="256.70" y="220.10">28.6</text>
<text x="278.10" y="166.90">50.7</text>
<text x="289.70" y="138.90">63.8</text>
<text x="283.80" y="123.70">68.8</text>
<text x="313.50" y="120.50">72.5</text>
<text x="324.50" y="120.00">72.8</text>
<text x="336.10" y="137.20">64.6</text>
<text x="347.80" y="173.70">47.7</text>
<text x="359.20" y="217.70">27.0</text>
<text x="368.00" y="190.20">36.9</text>
<text x="373.20" y="119.50">70.5</text>
<text x="391.60" y="127.40">67.1</text>
<text x="396.50" y="148.10">61.8</text>
<text x="400.00" y="101.80">79.6</text>
<text x="419.80" y="96.30">81.0</text>
<text x="441.00" y="109.10">80.4</text>
<text x="452.80" y="126.30">69.7</text>
<text x="463.70" y="204.30">33.3</text>
<text x="475.90" y="156.10">56.0</text>
<text x="474.00" y="100.60">79.0</text>
<text x="487.70" y="108.90">80.7</text>
<text x="502.60" y="93.00">81.5</text>
<text x="522.90" y="105.60">79.4</text>
<text x="523.70" y="114.60">78.1</text>
<text x="540.60" y="107.40">81.1</text>
<text x="546.20" y="89.20">83.9</text>
<text x="561.40" y="93.70">82.7</text>
<text x="571.20" y="110.80">80.6</text>
<text x="592.50" y="102.30">81.0</text>
<text x="583.30" y="89.30">85.6</text>
<text x="604.70" y="85.60">86.0</text>
<text x="616.30" y="108.60">80.9</text>
<text x="630.40" y="95.10">81.4</text>
<text x="634.60" y="108.60">81.1</text>
</g>
<g font-size="10" fill="#1a1a1a">
<text x="22.9" y="7.3">National</text><text x="22.9" y="19.05">lockdown</text>
<text x="111.7" y="7.3">School fully</text><text x="111.7" y="19.05">reopen</text>
<text x="293.7" y="7.3">Re-implementation</text><text x="293.7" y="19.05">of restrictions</text>
<text x="413.1" y="7.3">Endng the zero</text><text x="413.1" y="19.05">COVID policy</text>
</g>
<line x1="40.50" y1="26" x2="40.50" y2="43" stroke="#000" stroke-width="1.1"/>
<path d="M37.70 42 L43.30 42 L40.50 48.2 Z" fill="#000"/>
<line x1="132.50" y1="26" x2="132.50" y2="43" stroke="#000" stroke-width="1.1"/>
<path d="M129.70 42 L135.30 42 L132.50 48.2 Z" fill="#000"/>
<line x1="336.50" y1="26" x2="336.50" y2="43" stroke="#000" stroke-width="1.1"/>
<path d="M333.70 42 L339.30 42 L336.50 48.2 Z" fill="#000"/>
<line x1="450.40" y1="26" x2="450.40" y2="43" stroke="#000" stroke-width="1.1"/>
<path d="M447.60 42 L453.20 42 L450.40 48.2 Z" fill="#000"/>
<text x="239.7" y="71.6" font-size="8.95" fill="#1a1a1a" text-anchor="middle">COVID-19 period</text>
<line x1="48" y1="82" x2="444" y2="82" stroke="#333" stroke-width="1.4"/>
<path d="M43.8 82 L50 79.3 L50 84.7 Z" fill="#111"/>
<path d="M449.2 82 L443 79.3 L443 84.7 Z" fill="#111"/>
<g>
<rect x="264.1" y="319.1" width="10.7" height="5.8" fill="url(#lB)"/>
<rect x="297.1" y="319.1" width="10.7" height="5.8" fill="url(#lO)"/>
<rect x="329.5" y="319.1" width="10.9" height="5.8" fill="url(#lY)"/>
<rect x="367.1" y="319.1" width="10.9" height="5.8" fill="url(#lG)"/>
<line x1="408.3" y1="321.8" x2="420" y2="321.8" stroke="#8a8a8a" stroke-width="1.1"/>
<circle cx="414.3" cy="321.8" r="1.35" fill="#e0102f"/>
</g>
<g font-size="8.35" fill="#1a1a1a">
<text x="277.8" y="324.6">0-2 y</text>
<text x="310.5" y="324.6">3-5 y</text>
<text x="343.5" y="324.6">6-10 y</text>
<text x="380.8" y="324.6">11-16 y</text>
<text x="422.9" y="324.6">Percentage (%)</text>
</g>
</svg>
</body></html>
